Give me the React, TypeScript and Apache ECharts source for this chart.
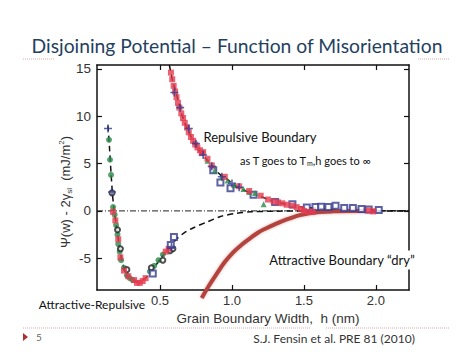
import React, { useEffect, useRef } from "react";
import * as echarts from "echarts";

// ---------- data ----------
const xTicks = [0.5, 1.0, 1.5, 2.0];
const yTicks = [-5, 0, 5, 10, 15];

// theoretical dashed curves
const attractiveCurve: [number, number][] = [
  [0.139, 9.0], [0.15, 6.5], [0.16, 4.0], [0.17, 1.8], [0.18, 0.2], [0.195, -1.3],
  [0.21, -2.9], [0.225, -4.4], [0.245, -5.8], [0.27, -6.8], [0.3, -7.3], [0.34, -7.5],
  [0.38, -7.3], [0.42, -6.8], [0.46, -6.0], [0.5, -5.1], [0.54, -4.3], [0.58, -3.6],
  [0.62, -2.9], [0.68, -2.2], [0.73, -1.8], [0.83, -1.15], [0.92, -0.6], [1.03, -0.25],
  [1.13, -0.1], [1.3, -0.03], [1.6, 0], [2.23, 0],
];
const repulsiveCurve: [number, number][] = [
  [0.565, 15.4], [0.59, 13.6], [0.61, 12.6], [0.63, 11.4], [0.66, 9.8], [0.69, 8.7],
  [0.72, 7.7], [0.75, 6.9], [0.78, 6.2], [0.82, 5.5], [0.87, 4.6], [0.92, 3.8],
  [0.97, 3.3], [1.01, 2.8], [1.08, 2.2], [1.15, 1.8], [1.22, 1.4], [1.29, 1.05],
  [1.36, 0.75], [1.43, 0.55], [1.52, 0.35], [1.61, 0.25], [1.7, 0.15], [1.82, 0.08],
  [1.94, 0.04], [2.23, 0],
];
const zeroLine: [number, number][] = [[0.0625, 0], [2.23, 0]];

// "dry" attractive boundary
const dryCurve: [number, number][] = [
  [0.79, -9.2], [0.84, -7.9], [0.896, -6.6], [0.95, -5.4], [1.007, -4.4], [1.065, -3.6],
  [1.125, -2.9], [1.18, -2.3], [1.243, -1.8], [1.3, -1.4], [1.354, -1.05], [1.41, -0.75],
  [1.472, -0.45], [1.54, -0.25], [1.611, -0.12], [1.7, -0.05], [1.85, 0], [2.01, 0],
];

// measured points
const redRepulsive: [number, number][] = [
  [0.576, 14.6], [0.585, 13.9], [0.595, 13.2], [0.605, 12.6], [0.615, 12.0], [0.625, 11.4],
  [0.635, 10.9], [0.648, 10.3], [0.66, 9.8], [0.672, 9.3], [0.688, 8.8], [0.7, 8.3],
  [0.715, 7.8], [0.73, 7.4], [0.745, 7.0], [0.76, 6.7], [0.778, 6.4], [0.79, 6.1],
  [0.8, 6.2], [0.83, 5.5], [0.86, 4.8], [0.95, 3.6], [1.05, 2.6], [1.12, 2.1], [1.2, 1.6],
  [1.25, 1.2], [1.29, 1.0], [1.32, 0.9], [1.35, 0.8], [1.38, 0.65], [1.42, 0.55],
  [1.45, 0.4], [1.48, 0.2], [1.5, 0.0], [1.53, -0.1], [1.56, -0.1], [1.95, 0.05], [1.98, -0.05],
];
const crossRepulsive: [number, number][] = [
  [0.6, 12.5], [0.64, 10.9], [0.7, 8.7], [0.75, 7.1], [0.8, 5.9], [0.86, 4.7],
  [0.93, 3.6], [1.0, 2.9], [1.05, 2.5],
];
const squareRepulsive: [number, number][] = [
  [0.87, 4.3], [0.92, 3.0], [0.99, 2.4], [1.15, 1.7], [1.3, 0.95], [1.42, 0.7],
  [1.52, 0.35], [1.58, 0.4], [1.62, 0.45], [1.67, 0.4], [1.72, 0.55], [1.78, 0.3],
  [1.84, 0.3], [1.9, 0.2], [1.95, 0.15], [2.02, 0.1],
];
const triRepulsive: [number, number][] = [
  [0.83, 5.3], [0.88, 4.3], [0.93, 3.6], [0.97, 3.2], [1.02, 2.7], [1.08, 2.3],
  [1.12, 2.0], [1.16, 1.9], [1.22, 0.7],
];
const greenAttractive: [number, number][] = [
  [0.146, 7.5], [0.153, 5.4], [0.16, 3.8], [0.174, 0.4], [0.185, -0.4], [0.195, -1.5],
  [0.205, -2.5], [0.21, -3.5], [0.22, -4.3], [0.23, -5.2], [0.25, -6.0], [0.27, -6.8],
  [0.29, -7.1], [0.31, -7.3], [0.43, -6.4], [0.46, -5.8], [0.49, -5.2], [0.52, -4.6],
];
const redAttractive: [number, number][] = [
  [0.174, -0.1], [0.19, -1.0], [0.21, -3.0], [0.225, -4.9], [0.25, -6.3], [0.28, -6.9],
  [0.32, -7.3], [0.34, -7.6], [0.36, -7.6], [0.38, -7.4], [0.4, -7.1], [0.54, -4.3], [0.56, -4.0],
];
const circleAttractive: [number, number][] = [
  [0.167, 1.9], [0.205, -2.0], [0.225, -4.0], [0.27, -6.2], [0.44, -6.0], [0.52, -5.2],
  [0.57, -4.2], [0.59, -4.0],
];
const squareAttractive: [number, number][] = [[0.597, -2.75], [0.575, -3.6], [0.45, -6.6]];
const crossAttractive: [number, number][] = [[0.139, 8.7], [0.167, 2.0], [0.58, -3.8]];

const RED = "#e53a4e";
const BLUE = "#353b8f";
const GREEN = "#2b8a4a";
const CROSS = "path://M4,0H6V4H10V6H6V10H4V6H0V4H4Z";

export default function App() {
  const ref = useRef<HTMLDivElement>(null);
  useEffect(() => {
    const chart = echarts.init(ref.current!, null, { renderer: "svg" });
    const axisFont = { fontFamily: "Liberation Sans", fontSize: 13.5, color: "#333" };
    const baseX = {
      type: "value" as const,
      min: 0.0625,
      max: 2.23,
      splitLine: { show: false },
      axisLine: { show: true, onZero: false, lineStyle: { color: "#111", width: 1.5 } },
      axisTick: { show: true, inside: true, length: 5, customValues: xTicks, lineStyle: { color: "#111", width: 1.2 } },
    };
    const baseY = {
      type: "value" as const,
      min: -8.35,
      max: 15.4,
      splitLine: { show: false },
      axisLine: { show: true, onZero: false, lineStyle: { color: "#111", width: 1.5 } },
      axisTick: { show: true, inside: true, length: 5, customValues: yTicks, lineStyle: { color: "#111", width: 1.2 } },
    };
    const scatter = (data: [number, number][], symbol: string, size: number, style: any, z = 3) => ({
      type: "scatter",
      data,
      symbol,
      symbolSize: size,
      itemStyle: style,
      z,
    });
    chart.setOption({
      animation: false,
      grid: { left: 97, right: 65, top: 65, bottom: 65 },
      xAxis: [
        {
          ...baseX,
          position: "bottom",
          axisLabel: { ...axisFont, fontSize: 13, margin: 4, customValues: xTicks, formatter: (v: number) => v.toFixed(1) },
        },
        { ...baseX, position: "top", axisLabel: { show: false } },
      ],
      yAxis: [
        {
          ...baseY,
          position: "left",
          axisLabel: { ...axisFont, margin: 6, customValues: yTicks, formatter: (v: number) => String(v) },
        },
        { ...baseY, position: "right", axisLabel: { show: false } },
      ],
      series: [
        {
          type: "line", data: zeroLine, symbol: "none", z: 1,
          lineStyle: { color: "#222", width: 1, type: [6, 2, 1, 2] },
        },
        {
          type: "line", data: attractiveCurve, symbol: "none", smooth: 0.3, z: 1,
          lineStyle: { color: "#111", width: 1.5, type: [6, 4] },
        },
        {
          type: "line", data: repulsiveCurve, symbol: "none", smooth: 0.3, z: 1,
          lineStyle: { color: "#111", width: 1.5, type: [6, 4] },
        },
        {
          type: "line", data: dryCurve, symbol: "none", smooth: 0.4, clip: false, z: 2,
          lineStyle: { color: "#b4423e", width: 4, shadowColor: "rgba(120,0,0,0.35)", shadowBlur: 3 },
        },
        scatter(squareRepulsive, "emptyRect", 6, { color: BLUE, borderColor: BLUE, borderWidth: 1 }),
        scatter(triRepulsive, "triangle", 6, { color: GREEN }),
        scatter(redRepulsive, "rect", 6, { color: RED }),
        scatter(crossRepulsive, CROSS, 8, { color: BLUE }, 4),
        scatter(greenAttractive, "circle", 6, { color: GREEN }),
        scatter(circleAttractive, "emptyCircle", 5, { color: "#222", borderColor: "#222", borderWidth: 1 }),
        scatter(redAttractive, "rect", 6, { color: RED }),
        scatter(squareAttractive, "emptyRect", 6, { color: BLUE, borderColor: BLUE, borderWidth: 1 }),
        scatter(crossAttractive, CROSS, 8, { color: BLUE }, 4),
      ],
      graphic: [
        {
          type: "text", x: 237, y: 45,
          style: {
            text: "Disjoining Potential \u2013 Function of Misorientation", font: "19.3px Lato", fill: "#243f60",
            align: "center", verticalAlign: "middle",
          },
        },
        { type: "line", shape: { x1: 23, y1: 59, x2: 55, y2: 59 }, style: { stroke: "#e0aaaa", lineWidth: 1, lineDash: [1, 1] } },
        { type: "line", shape: { x1: 418, y1: 59, x2: 450, y2: 59 }, style: { stroke: "#e0aaaa", lineWidth: 1, lineDash: [1, 1] } },
        { type: "line", shape: { x1: 23, y1: 328, x2: 310, y2: 328 }, style: { stroke: "#e0aaaa", lineWidth: 1, lineDash: [1, 1] } },
        { type: "line", shape: { x1: 326, y1: 328, x2: 450, y2: 328 }, style: { stroke: "#e0aaaa", lineWidth: 1, lineDash: [1, 1] } },
        { type: "polygon", shape: { points: [[23, 333], [28, 337], [23, 341]] }, style: { fill: "#b03030" } },
        { type: "text", x: 36, y: 337, style: { text: "5", font: "10px Lato", fill: "#666", verticalAlign: "middle" } },
        {
          type: "text", x: 334, y: 338,
          style: { text: "S.J. Fensin et al. PRE 81 (2010)", font: "12px Lato", fill: "#333", align: "center", verticalAlign: "middle" },
        },
        {
          type: "text", x: 92, y: 304,
          style: { text: "Attractive-Repulsive", font: "12px Lato", fill: "#111", align: "center", verticalAlign: "middle" },
        },
        {
          type: "text", x: 268, y: 318,
          style: { text: "Grain Boundary Width,  h (nm)", font: "13.5px Liberation Sans", fill: "#333", align: "center", verticalAlign: "middle" },
        },
        {
          type: "text", x: 260, y: 137,
          style: { text: "Repulsive Boundary", font: "13px Lato", fill: "#111", align: "center", verticalAlign: "middle" },
        },
        {
          type: "text", x: 240, y: 159, z: 10,
          style: {
            text: "{a|as T goes to T}{s|m}{a|,h goes to \u221e}",
            verticalAlign: "middle",
            rich: {
              a: { font: "11px Lato", fill: "#111", lineHeight: 14, verticalAlign: "bottom" },
              s: { font: "7px Lato", fill: "#111", lineHeight: 14, verticalAlign: "bottom" },
            },
          },
        },
        {
          type: "text", x: 342, y: 260, z: 100,
          style: {
            text: "Attractive Boundary \u201cdry\u201d", font: "13px Lato", fill: "#111", align: "center", verticalAlign: "middle",
            backgroundColor: "#fff", padding: [3, 2, 3, 2],
          },
        },
        {
          type: "text", x: 65, y: 192, rotation: Math.PI / 2,
          style: {
            text: "{a|\u03a8(w) - 2\u03b3}{s|sl}{a|  (mJ/m}{p|2}{a|)}",
            align: "center", verticalAlign: "middle",
            rich: {
              a: { font: "13px Liberation Sans", fill: "#333", lineHeight: 16, verticalAlign: "middle" },
              s: { font: "8px Liberation Sans", fill: "#333", lineHeight: 10, verticalAlign: "bottom" },
              p: { font: "8px Liberation Sans", fill: "#333", lineHeight: 10, verticalAlign: "top" },
            },
          },
        },
      ],
    });
    return () => chart.dispose();
  }, []);
  return <div ref={ref} style={{ position: "fixed", left: 0, top: 0, width: 474, height: 355, background: "#fff" }} />;
}
